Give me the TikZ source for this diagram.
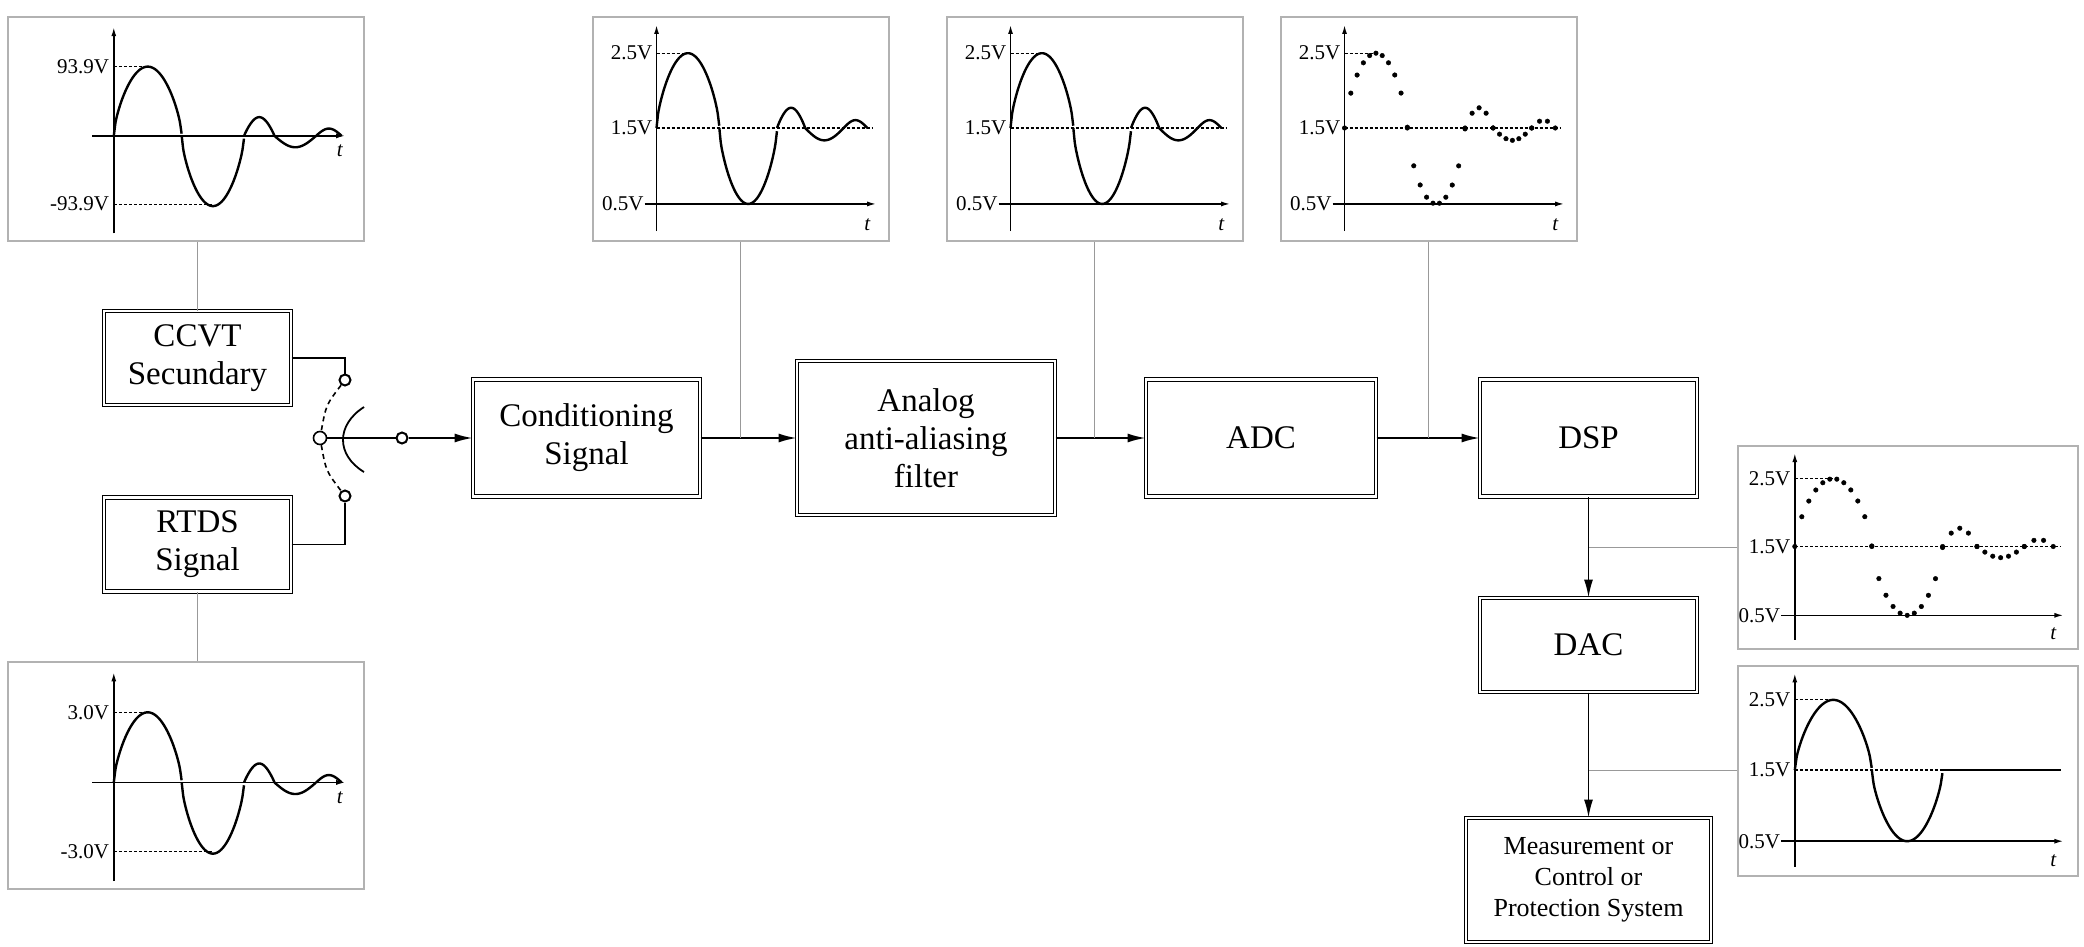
\documentclass[tikz,border=0pt]{standalone}
\usepackage{fontspec}
\setmainfont{Liberation Serif}
\usetikzlibrary{arrows.meta}
\tikzset{
 blk/.style={draw, line width=1pt, double, double distance=2.4pt, align=center, font=\fontsize{33}{38}\selectfont, inner sep=0pt},
 frame/.style={draw=black!30, line width=1.6pt, anchor=north west, inner sep=0pt},
 arr/.style={line width=1.6pt, -{Latex[length=18pt,width=9pt]}},
 wire/.style={line width=1.6pt},
 tap/.style={draw=black!40, line width=1.3pt},
 axis/.style={line width=1.5pt, -{Latex[length=9pt,width=5pt]}},
 sig/.style={line width=2.4pt, line join=round},
 guide/.style={line width=1.2pt, dash pattern=on 3pt off 2pt},
 lab/.style={font=\fontsize{21}{24}\selectfont, anchor=east, inner sep=1pt},
 tlab/.style={font=\fontsize{21}{24}\selectfont\itshape, inner sep=0pt},
 term/.style={circle, draw, line width=2pt, minimum size=11pt, inner sep=0pt},
}
% wave: ax, xend, ymid, A, mode (0 line, 1 dots, 2 flat)
\newcommand\wave[5]{%
 \pgfmathsetmacro\wL{#2-#1}%
 \foreach \ua/\ub/\am/\ex [count=\k] in {0/0.298/1/0.65, 0.298/0.572/-1.015/0.65, 0.572/0.705/0.27/0.9, 0.705/0.888/-0.165/1, 0.888/1/0.105/1}{%
   \pgfmathsetmacro\xa{#1+\ua*\wL}%
   \pgfmathsetmacro\xb{#1+\ub*\wL}%
   \pgfmathsetmacro\aa{\am*#4}%
   \pgfmathtruncatemacro\skipseg{((#5==2)&&(\k>2))?1:0}%
   \ifnum\skipseg=0
     \ifnum#5=1
       \pgfmathtruncatemacro\ns{max(3,round((\xb-\xa)/0.019))}%
       \draw plot[only marks, mark=*, mark size=2.3pt, domain=\xa:\xb, samples=\ns] (\x,{#3-\aa*(abs(sin(180*(\x-\xa)/(\xb-\xa))))^\ex});
     \else
       \draw[sig] plot[domain=\xa:\xb, samples=40, smooth] (\x,{#3-\aa*(abs(sin(180*(\x-\xa)/(\xb-\xa))))^\ex});
     \fi
   \fi
 }%
 \ifnum#5=2
   \pgfmathsetmacro\xa{#1+0.572*\wL}%
   \draw[sig] (\xa,#3) -- (0.95,#3);
 \fi
}
% unipolar plot: name, x0, y0, w, h, ax, mode
\newcommand\uniplot[7]{%
 \node[frame, minimum width=#4pt, minimum height=#5pt] (#1) at (#2,#3) {};
 \begin{scope}[shift={(#2,#3)}, x=#4pt, y=-#5pt]
  \pgfmathsetmacro\px{#6+0.149*(0.93-#6)}
  \draw[axis] (#6,0.96) -- (#6,0.04);
  \draw[axis] (#6-0.04,0.839) -- (0.96,0.839);
  \draw[guide] (#6,0.166) -- (\px,0.166);
  \draw[guide] (#6,0.5) -- (0.95,0.5);
  \node[lab] at (#6-0.01,0.166) {2.5V};
  \node[lab] at (#6-0.01,0.5) {1.5V};
  \node[lab] at (#6-0.04,0.839) {0.5V};
  \node[tlab] at (0.93,0.93) {t};
  \wave{#6}{0.93}{0.5}{0.334}{#7}
 \end{scope}
}
% bipolar plot: name, x0, y0, w, h, ax, top label, bottom label
\newcommand\biplot[8]{%
 \node[frame, minimum width=#4pt, minimum height=#5pt] (#1) at (#2,#3) {};
 \begin{scope}[shift={(#2,#3)}, x=#4pt, y=-#5pt]
  \pgfmathsetmacro\px{#6+0.149*(0.94-#6)}
  \pgfmathsetmacro\qx{#6+0.435*(0.94-#6)}
  \draw[axis] (#6,0.97) -- (#6,0.05);
  \draw[axis] (#6-0.06,0.535) -- (0.95,0.535);
  \draw[guide] (#6,0.226) -- (\px,0.226);
  \draw[guide] (#6,0.84) -- (\qx,0.84);
  \node[lab] at (#6-0.01,0.226) {#7};
  \node[lab] at (#6-0.01,0.84) {#8};
  \node[tlab] at (0.935,0.6) {t};
  \wave{#6}{0.94}{0.535}{0.309}{0}
 \end{scope}
}
\begin{document}
\begin{tikzpicture}[x=1pt,y=-1pt]
\useasboundingbox (0,0) rectangle (2084,947);

% plots
\biplot{pA}{7}{16}{356}{224}{0.3}{93.9V}{-93.9V}
\biplot{pB}{7}{661}{356}{227}{0.3}{3.0V}{-3.0V}
\uniplot{p2}{592}{16}{296}{224}{0.218}{0}
\uniplot{p3}{946}{16}{296}{224}{0.218}{0}
\uniplot{p4}{1280}{16}{296}{224}{0.218}{1}
\uniplot{p5}{1737}{445}{340}{203}{0.17}{1}
\uniplot{p6}{1737}{665}{340}{210}{0.17}{2}

% blocks
\node[blk, minimum width=187pt, minimum height=94pt] (ccvt) at (197.5,358) {CCVT\\Secundary};
\node[blk, minimum width=187pt, minimum height=94pt] (rtds) at (197.5,544.5) {RTDS\\Signal};
\node[blk, minimum width=227pt, minimum height=117pt] (cond) at (586.5,438) {Conditioning\\Signal};
\node[blk, minimum width=258pt, minimum height=154pt] (anal) at (926,438) {Analog\\anti-aliasing\\filter};
\node[blk, minimum width=230pt, minimum height=117pt] (adc) at (1261,438) {ADC};
\node[blk, minimum width=217pt, minimum height=117pt] (dsp) at (1588.5,438) {DSP};
\node[blk, minimum width=217pt, minimum height=94pt] (dac) at (1588.5,645) {DAC};
\node[blk, minimum width=245pt, minimum height=124pt, font=\fontsize{26}{31}\selectfont] (meas) at (1588.5,880) {Measurement or\\Control or\\Protection System};

% switch
\node[term] (t1) at (345,380) {};
\node[term] (t2) at (345,496) {};
\node[term, line width=1.6pt, minimum size=13pt] (piv) at (320,438) {};
\node[term] (out) at (402,438) {};
\draw[wire] (ccvt.east) -| (t1);
\draw[wire] (rtds.east) -| (t2);
\draw[line width=1.6pt, dash pattern=on 5pt off 4pt] (t1) .. controls (326,405) .. (piv) .. controls (326,471) .. (t2);
\draw[line width=1.8pt] (364,407) .. controls (336,425) and (336,455) .. (364,472);
\draw[wire] (piv) -- (out);
\draw[arr] (out) -- (cond.west);

% main chain
\draw[arr] (cond.east) -- (anal.west);
\draw[arr] (anal.east) -- (adc.west);
\draw[arr] (adc.east) -- (dsp.west);
\draw[arr] (dsp.south) -- (dac.north);
\draw[arr] (dac.south) -- (meas.north);

% taps
\draw[tap] (ccvt.north) -- (ccvt.north |- pA.south);
\draw[tap] (rtds.south) -- (rtds.south |- pB.north);
\draw[tap] (p2.south) -- (p2.south |- cond.east);
\draw[tap] (p3.south) -- (p3.south |- anal.east);
\draw[tap] (p4.south) -- (p4.south |- adc.east);
\draw[tap] (p5.west) -- (p5.west -| dsp.south);
\draw[tap] (p6.west) -- (p6.west -| dac.south);
\end{tikzpicture}
\end{document}
